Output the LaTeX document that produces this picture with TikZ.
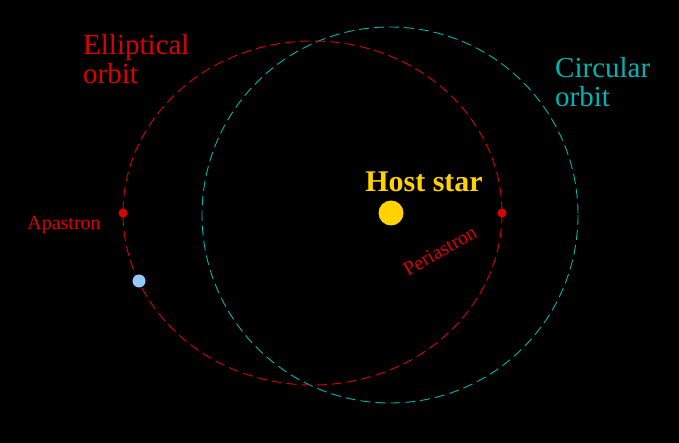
\documentclass[tikz,border=0pt]{standalone}
\usepackage{fontspec}
\setmainfont{Liberation Serif}
\definecolor{orbred}{RGB}{220,0,0}
\definecolor{orbcyan}{RGB}{0,180,180}
\definecolor{star}{RGB}{255,210,0}
\definecolor{planet}{RGB}{150,200,255}
\tikzset{orbitline/.style={dash pattern=on 10pt off 5pt, line width=0.9pt},
 lbl/.style={font=\fontsize{29}{29}\selectfont, align=left, inner sep=0},
 small/.style={font=\fontsize{20}{20}\selectfont, text=orbred, inner sep=0}}
\begin{document}
\begin{tikzpicture}[x=1pt,y=-1pt]
\fill[black] (0,0) rectangle (679,443);
\useasboundingbox (0,0) rectangle (679,443);
\draw[orbitline, orbcyan] (390,215) circle (188);
\draw[orbitline, orbred] (312.5,213) ellipse (189.5 and 172);
\node[circle, fill=star, minimum size=25pt, inner sep=0] (host) at (391,213) {};
\node[text=star, inner sep=0, font=\bfseries\fontsize{30}{30}\selectfont] (hostlbl) at (424,182) {Host star};
\node[circle, fill=orbred, minimum size=9pt, inner sep=0] (apa) at (123,213) {};
\node[circle, fill=orbred, minimum size=9pt, inner sep=0] (peri) at (502,213) {};
\node[small] (apalbl) at (64,225) {Apastron};
\node[small, rotate=30] (perilbl) at (440,251) {Periastron};
\node[circle, fill=planet, minimum size=13pt, inner sep=0] (pl) at (139,281) {};
\node[lbl, text=orbred, anchor=north west] (ell) at (83,34) {Elliptical\\orbit};
\node[lbl, text=orbcyan, anchor=north west] (circ) at (555,57) {Circular\\orbit};
\end{tikzpicture}
\end{document}
